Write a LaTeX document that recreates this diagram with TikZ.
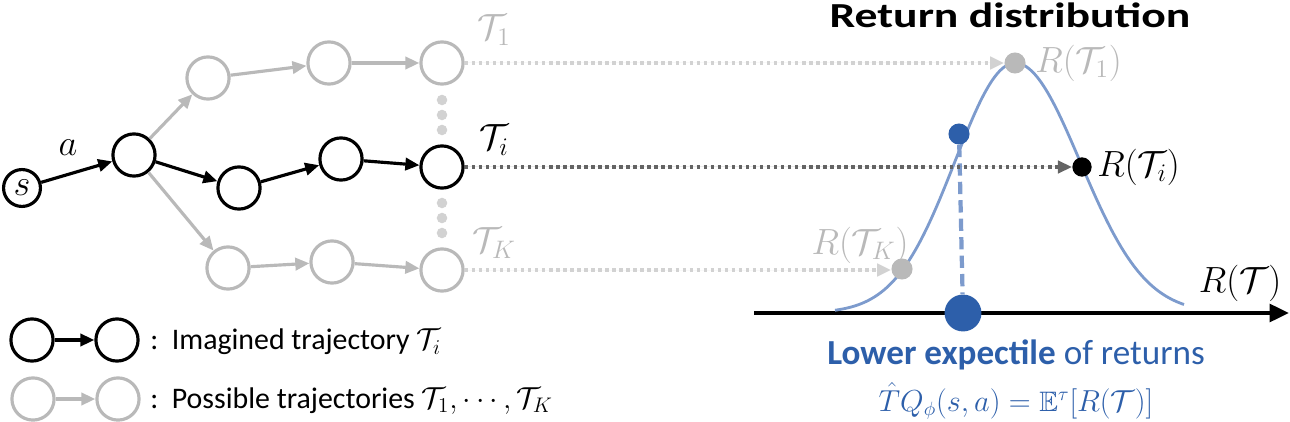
\documentclass[tikz,border=0pt]{standalone}
\usepackage{fontspec}
\usepackage{amssymb}
\setmainfont{Carlito}
\usetikzlibrary{arrows.meta}
\definecolor{lg}{RGB}{185,185,185}
\definecolor{llg}{RGB}{210,210,210}
\definecolor{dg}{RGB}{100,100,100}
\definecolor{cb}{RGB}{125,155,205}
\definecolor{db}{RGB}{45,95,170}
\tikzset{
 st/.style={circle,draw,line width=1.8pt,minimum size=24pt,inner sep=0pt},
 bk/.style={st,draw=black},
 gy/.style={st,draw=lg},
 ba/.style={line width=1.8pt,-{Triangle[length=8pt,width=7pt]}},
 dotl/.style={line width=2.2pt,dash pattern=on 2pt off 2pt,-{Triangle[length=8pt,width=7pt]}},
 mt/.style={font=\fontsize{20}{24}\selectfont,inner sep=0pt},
 tx/.style={font=\fontsize{17}{20}\selectfont,inner sep=0pt},
 pt/.style={circle,inner sep=0pt},
}
\begin{document}
\begin{tikzpicture}[x=0.02cm,y=-0.02cm]
\useasboundingbox (0,0) rectangle (1290,422);
% nodes
\node[bk,minimum size=21pt] (s) at (22,188) {};
\node[mt] at (22,188) {$s$};
\node[bk] (n1) at (134,155) {};
\node[gy] (t1) at (208,78) {};
\node[gy] (t2) at (329,63) {};
\node[gy] (t3) at (442,63) {};
\node[bk] (m1) at (239,188) {};
\node[bk] (m2) at (341,159) {};
\node[bk] (m3) at (442,167) {};
\node[gy] (b1) at (228,268) {};
\node[gy] (b2) at (332,262) {};
\node[gy] (b3) at (442,270) {};
\draw[ba,draw=lg,fill=lg] (n1) -- (t1);
\draw[ba,draw=lg,fill=lg] (t1) -- (t2);
\draw[ba,draw=lg,fill=lg] (t2) -- (t3);
\draw[ba,draw=lg,fill=lg] (n1) -- (b1);
\draw[ba,draw=lg,fill=lg] (b1) -- (b2);
\draw[ba,draw=lg,fill=lg] (b2) -- (b3);
\draw[ba] (s) -- (n1);
\node[mt] (al) at (68,148) {$a$};
\draw[ba] (n1) -- (m1);
\draw[ba] (m1) -- (m2);
\draw[ba] (m2) -- (m3);
% vertical dots
\foreach \y in {100,115,130,203,218,233}
  \fill[llg] (442,\y) circle (3pt);
\node[mt,text=lg] at (494,30) {$\mathcal{T}_1$};
\node[mt] at (494,140) {$\mathcal{T}_i$};
\node[mt,text=lg] at (494,243) {$\mathcal{T}_K$};
% axis and curve
\coordinate (a0) at (754,313);
\coordinate (a1) at (1289,313);
\draw[line width=2.2pt,-{Triangle[length=11pt,width=10pt]}] (a0) -- (a1);
\draw[cb,line width=1.6pt] plot[domain=-3:0,samples=60,smooth] ({1015+60*\x},{313-250*exp(-\x*\x/2)})
 -- plot[domain=0:2.6,samples=60,smooth] ({1015+65*\x},{313-250*exp(-\x*\x/2)});
\node[pt,fill=db,minimum size=12pt] (bq) at (959,134) {};
\node[pt,fill=db,minimum size=21pt] (bb) at (963,313) {};
\draw[cb,line width=2.4pt,dash pattern=on 7pt off 3.5pt] (bq) -- (bb);
\node[pt,fill=lg,minimum size=12pt] (r1) at (1015,63) {};
\node[pt,fill=black,minimum size=11pt] (ri) at (1082,167) {};
\node[pt,fill=lg,minimum size=12pt] (rk) at (902,269) {};
\draw[dotl,draw=llg,fill=llg] (t3) -- (t3 -| r1.west);
\draw[dotl,draw=dg,fill=dg] (m3) -- (m3 -| ri.west);
\draw[dotl,draw=llg,fill=llg] (b3) -- (b3 -| rk.west);
\node[mt,text=lg,anchor=west] at (1035,63) {$R(\mathcal{T}_1)$};
\node[mt,anchor=west] at (1097,167) {$R(\mathcal{T}_i)$};
\node[mt,text=lg] at (860,245) {$R(\mathcal{T}_K)$};
\node[mt] at (1240,283) {$R(\mathcal{T})$};
\node[tx] (title) at (1010,15) {\scalebox{1.3}[1]{\fontsize{20}{24}\selectfont\bfseries Return distribution}};
\node[tx,text=db,font=\fontsize{20}{24}\selectfont] (lx) at (1016,355) {\textbf{Lower expectile} of returns};
\node[mt,text=db,font=\fontsize{16}{19}\selectfont] (fm) at (1016,401) {$\hat{T}Q_\phi(s,a)=\mathbb{E}^\tau[R(\mathcal{T})]$};
% legend
\node[bk] (l1) at (32,340) {};
\node[bk] (l2) at (117,340) {};
\draw[ba] (l1) -- (l2);
\node[gy] (g1) at (33,399) {};
\node[gy] (g2) at (118,399) {};
\draw[ba,draw=lg,fill=lg] (g1) -- (g2);
\node[tx,anchor=west] at (150,342) {:\ \ Imagined trajectory $\mathcal{T}_i$};
\node[tx,anchor=west] at (150,401) {:\ \ Possible trajectories $\mathcal{T}_1,\cdots,\mathcal{T}_K$};
\end{tikzpicture}
\end{document}
